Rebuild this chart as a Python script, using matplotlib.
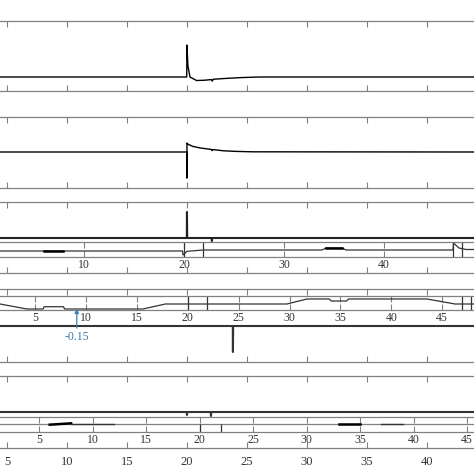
import matplotlib
matplotlib.use("Agg")
import matplotlib.pyplot as plt

plt.rcParams['font.family'] = ['Liberation Serif', 'DejaVu Serif']

W = H = 474
GREY = '#808080'

# main panels share one time scale
main_xlim = (4.42, 43.92)
main_ticks = [5, 10, 15, 20, 25, 30, 35, 40, 45]

sig1_x = [4.4, 6.0, 7.8, 19.98, 20.0, 20.08, 20.25, 20.8, 21.5, 22.05, 22.1, 22.2, 23.0, 24.4, 26.0, 43.95]
sig1_y = [0, 0, 0, 0, 1.0, 0.35, 0.0, -0.11, -0.1, -0.08, -0.13, -0.07, -0.05, -0.02, 0, 0]

sig2_x = [4.4, 19.99, 20.0, 20.0, 20.1, 20.5, 21.1, 22.05, 22.1, 22.15, 23.0, 24.0, 25.5, 43.95]
sig2_y = [0, 0, -2.9, 1.0, 0.85, 0.62, 0.45, 0.28, 0.15, 0.27, 0.14, 0.07, 0.02, 0]

sig3_x = [4.4, 19.99, 20.0, 20.02, 22.05, 22.08, 22.1, 43.95]
sig3_y = [0, 0, 1.0, 0, 0, -0.12, 0, 0]

sig4_x = [4.4, 23.82, 23.83, 23.85, 43.95]
sig4_y = [0, 0, -1.0, 0, 0]

sig5_x = [4.4, 19.98, 20.0, 20.02, 21.98, 22.0, 22.02, 43.95]
sig5_y = [0, 0, -3, 0, 0, -4, 0, 0]

# inset strip D (scale 10..40)
d_xlim = (1.6, 49.0)
d_ticks = [10, 20, 30, 40]
sigD_x = [1.6, 19.85, 19.9, 20.3, 21.9, 33.8, 34.2, 35.8, 36.2, 46.9, 46.95, 47.5, 48.2, 49.0]
sigD_y = [0, 0, -4, -0.3, 1, 1, 3, 3, 1, 1, 8, 3, 1.5, 1.5]
thickD_x = [[6.0, 7.9], [34.2, 35.8]]
thickD_y = [[0, 0], [3, 3]]

# inset strip F (scale 5..45)
f_xlim = (1.56, 48.12)
f_ticks = [5, 10, 15, 20, 25, 30, 35, 40, 45]
sigF_x = [1.56, 4.2, 5.8, 5.9, 7.8, 7.9, 15.6, 17.8, 29.75, 31.7, 33.9, 34.1, 35.6, 35.8, 43.5, 46.26, 48.12]
sigF_y = [0, -5, -5, -2.7, -2.7, -5, -5, 0, 0, 5, 5, 3, 3, 5, 5, 0, 0]
marks = [20, 21.9, 46.9, 47.8]
note_x, note_y, note_text = 9.1, -4.8, '-0.15'

# inset strip G (scale 5..45)
g_xlim = (1.355, 45.65)
g_ticks = [5, 10, 15, 20, 25, 30, 35, 40, 45]
thickG_x = [[6.0, 8.0], [33.0, 35.0]]
thickG_y = [[-0.7, 0.7], [0, 0]]
darkG_x = [[8.0, 12.0], [37.0, 39.0]]
darkG_y = [[0, 0], [0, 0]]
marksG = [20.05, 22.0]


def add_strip(fig, top, bottom, xlim, ylim, ticks, labels=False, pad=2, size=8.5):
    ax = fig.add_axes([0, 1 - bottom / H, 1, (bottom - top) / H])
    ax.patch.set_alpha(0)
    for s in ('left', 'right'):
        ax.spines[s].set_visible(False)
    for s in ('top', 'bottom'):
        ax.spines[s].set_color(GREY)
        ax.spines[s].set_linewidth(0.9)
    ax.set_yticks([])
    ax.set_xticks(ticks)
    ax.set_xticklabels([str(t) for t in ticks])
    ax.tick_params(axis='x', direction='in', top=True, bottom=True, length=4.5,
                   width=0.8, color=GREY, labelbottom=labels, labelsize=size,
                   pad=pad, labelcolor='#333333')
    # limits after ticks, otherwise set_xticks widens them
    ax.set_xlim(xlim)
    ax.set_ylim(ylim)
    return ax


fig = plt.figure(figsize=(W / 100, H / 100), dpi=100)

ax1 = add_strip(fig, 21, 91, main_xlim, (-14 / 32, 56 / 32), main_ticks)
ax1.plot(sig1_x, sig1_y, color='black', lw=1.0)

ax2 = add_strip(fig, 117, 188, main_xlim, (-4.0, 35 / 9), main_ticks)
ax2.plot(sig2_x, sig2_y, color='black', lw=1.0)

ax3 = add_strip(fig, 202, 273, main_xlim, (-35 / 26, 36 / 26), main_ticks)
ax3.plot(sig3_x, sig3_y, color='#222222', lw=1.5)

ax4 = add_strip(fig, 289, 362, main_xlim, (-36 / 26, 37 / 26), main_ticks)
ax4.plot(sig4_x, sig4_y, color='#333333', lw=1.5)

ax5 = add_strip(fig, 376, 448, main_xlim, (-36, 36), main_ticks, labels=True, pad=6, size=9)
ax5.plot(sig5_x, sig5_y, color='#333333', lw=1.5)

axD = add_strip(fig, 242, 257, d_xlim, (-6, 9), d_ticks, labels=True, pad=1.5)
axD.plot(sigD_x, sigD_y, color='#333333', lw=0.9)
for xs, ys in zip(thickD_x, thickD_y):
    axD.plot(xs, ys, color='black', lw=1.8)
axD.vlines(marks, -6, 9, color='#333333', lw=0.9)

axF = add_strip(fig, 296, 310, f_xlim, (-6, 8), f_ticks, labels=True, pad=1.5)
axF.plot(sigF_x, sigF_y, color='#333333', lw=0.9)
axF.vlines(marks, -6, 8, color='#333333', lw=0.9)
axF.annotate(note_text, xy=(note_x, note_y), xytext=(0, -22), textcoords='offset pixels',
             ha='center', va='top', color='#3a7fb3', fontsize=8.5, annotation_clip=False,
             arrowprops=dict(arrowstyle='-|>', color='#3a7fb3', lw=0.9,
                             mutation_scale=6, shrinkA=0, shrinkB=0))

axG = add_strip(fig, 417, 432, g_xlim, (-8, 7), g_ticks, labels=True, pad=1.5)
axG.axhline(0, color=GREY, lw=0.9)
for xs, ys in zip(thickG_x, thickG_y):
    axG.plot(xs, ys, color='black', lw=1.8)
for xs, ys in zip(darkG_x, darkG_y):
    axG.plot(xs, ys, color='#333333', lw=1.0)
axG.vlines(marksG, -8, 0, color='#333333', lw=0.9)

fig.savefig('out.png', dpi=100)
